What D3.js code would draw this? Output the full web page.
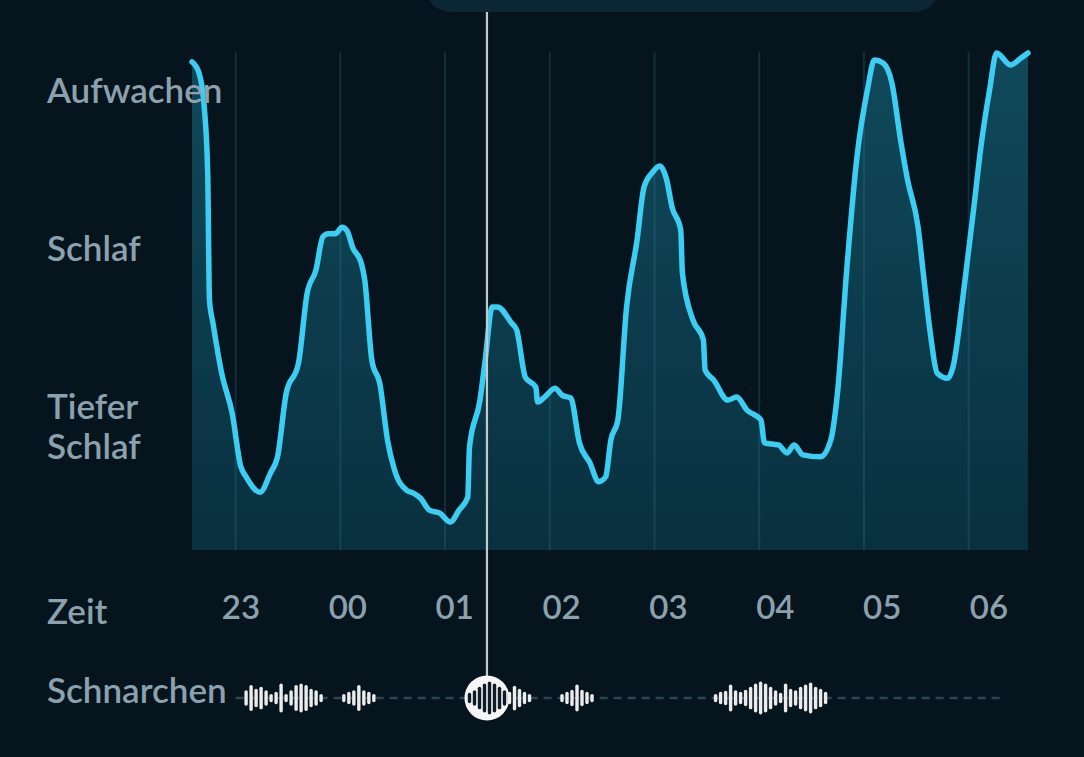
<!DOCTYPE html>
<html>
<head>
<meta charset="utf-8">
<script src="https://cdn.jsdelivr.net/npm/d3@7"></script>
<style>
  html,body{margin:0;padding:0;background:#06141e;}
  svg{display:block;}
  text{font-family:Lato,"Open Sans",sans-serif;}
</style>
</head>
<body>
<svg id="chart" width="1084" height="757"></svg>
<script>
// ---------- DATA ----------
const sleepTimes = ["22:35","22:39","22:42","22:44","22:45","22:47","22:52","22:58","23:03","23:06","23:14","23:20","23:24","23:29","23:36","23:41","23:46","23:50","23:53","23:57","00:01","00:04","00:07","00:12","00:14","00:18","00:23","00:24","00:27","00:31","00:38","00:42","00:46","00:51","00:57","01:03","01:08","01:13","01:14","01:20","01:23","01:27","01:30","01:38","01:41","01:46","01:52","01:53","01:57","02:03","02:07","02:12","02:17","02:23","02:28","02:32","02:35","02:39","02:44","02:50","02:54","02:59","03:03","03:07","03:10","03:15","03:16","03:22","03:28","03:29","03:34","03:42","03:47","03:53","04:01","04:03","04:11","04:16","04:20","04:25","04:35","04:41","04:45","04:50","04:56","05:02","05:06","05:11","05:16","05:21","05:25","05:31","05:34","05:38","05:42","05:48","05:51","05:57","06:03","06:07","06:12","06:16","06:24","06:30","06:34"];
const sleepDepth = [98.0,95.8,89.0,75.7,50.2,45.6,35.5,27.5,16.7,14.7,11.6,15.5,18.7,31.5,37.5,51.6,56.2,62.9,63.5,63.5,64.8,64.0,60.8,57.6,54.2,38.2,32.7,30.1,22.1,16.1,12.0,11.4,10.4,8.0,7.4,5.6,8.0,10.6,20.7,30.1,38.2,48.8,48.8,45.6,44.2,34.7,32.7,29.7,30.7,32.5,31.1,30.5,21.5,17.5,13.7,14.7,22.1,26.1,48.8,62.2,72.9,75.9,77.1,74.3,68.9,64.3,55.6,46.2,42.2,36.1,34.1,30.1,30.7,28.1,26.1,21.5,21.1,19.5,21.1,19.1,18.7,22.1,32.1,55.6,78.9,92.4,98.4,97.8,93.8,82.3,74.3,64.9,55.6,43.6,35.5,34.5,36.7,51.6,68.9,80.9,92.4,99.8,97.4,98.8,99.8];

const hourTicks = ["23:00","00:00","01:00","02:00","03:00","04:00","05:00","06:00"];
const hourLabels = ["23","00","01","02","03","04","05","06"];

const stageNames = ["Aufwachen","Schlaf","Tiefer Schlaf"];
const stageValues = [92.2, 60.6, 24.9];

const axisTitle = "Zeit";
const snoreTitle = "Schnarchen";

const snoreStarts = ["23:06","00:02","01:14","02:07","03:35"];
const snoreAmps = [
  [15,25,18,22,15,8,12,28,8,15,25,28,25,18,15,8],
  [8,12,15,25,15,12,8],
  [10,15,22,28,32,28,22,15,12,24,18,12,8],
  [8,12,16,26,16,12,8],
  [8,12,14,26,15,12,16,22,28,32,28,22,15,10,28,18,15,22,26,30,22,18,12]
];
const snoreTrack = ["23:00","06:20"];
const cursorTime = "01:24";

// ---------- HELPERS ----------
const base = new Date(2024,0,1);
function toDate(s){
  const [h,m] = s.split(":").map(Number);
  const d = new Date(base);
  if (h < 12) d.setDate(d.getDate()+1);
  d.setHours(h, m, 0, 0);
  return d;
}
const sleep = sleepTimes.map((t,i)=>({t:toDate(t), v:sleepDepth[i]}));

// ---------- LAYOUT ----------
const svg = d3.select("#chart");
const plot = {left:192, right:1028, top:52, bottom:550};

const x = d3.scaleTime().domain(d3.extent(sleep, d=>d.t)).range([plot.left, plot.right]);
const y = d3.scaleLinear().domain([0,100]).range([plot.bottom, plot.top]);
const labelX = d3.scalePoint().domain(hourLabels).range([241, 989]);

const textColor = "#8ba2ae";
const lineColor = "#3ccdf3";

// tooltip panel at top (cut off)
svg.append("rect")
  .attr("x", 425).attr("y", -70).attr("width", 515).attr("height", 82)
  .attr("rx", 26).attr("fill", "#0b2634");

const defs = svg.append("defs");
const grad = defs.append("linearGradient").attr("id","areaGrad")
  .attr("x1",0).attr("y1",0).attr("x2",0).attr("y2",1);
grad.append("stop").attr("offset","0%").attr("stop-color","#10495a");
grad.append("stop").attr("offset","100%").attr("stop-color","#09303f");

// area
const area = d3.area().x(d=>x(d.t)).y0(plot.bottom).y1(d=>y(d.v)).curve(d3.curveMonotoneX);
svg.append("path").datum(sleep).attr("d", area).attr("fill","url(#areaGrad)");

// vertical grid
svg.append("g").selectAll("line").data(hourTicks).join("line")
  .attr("x1", d=>x(toDate(d))).attr("x2", d=>x(toDate(d)))
  .attr("y1", plot.top).attr("y2", plot.bottom)
  .attr("stroke", "#2a7a95").attr("stroke-opacity", 0.28).attr("stroke-width", 2);

// line
const line = d3.line().x(d=>x(d.t)).y(d=>y(d.v)).curve(d3.curveMonotoneX);
svg.append("path").datum(sleep).attr("d", line)
  .attr("fill","none").attr("stroke", lineColor).attr("stroke-width", 5.5)
  .attr("stroke-linejoin","round").attr("stroke-linecap","round");

// stage labels
const stageG = svg.append("g").attr("fill", textColor)
  .attr("font-size", 35).attr("font-weight", 600);
stageNames.forEach((name,i)=>{
  const words = name.split(" ");
  const cy = y(stageValues[i]);
  const lh = 40;
  words.forEach((w,j)=>{
    stageG.append("text").attr("x",47)
      .attr("y", cy + (j - (words.length-1)/2)*lh)
      .attr("dy","0.36em").text(w);
  });
});

// x axis labels
svg.append("text").attr("x",47).attr("y",624).attr("fill",textColor)
  .attr("font-size",35).attr("font-weight",600).text(axisTitle);
svg.append("g").selectAll("text").data(hourLabels).join("text")
  .attr("x", d=>labelX(d)).attr("y", 619).attr("text-anchor","middle")
  .attr("fill", textColor).attr("font-size", 33).attr("font-weight", 600)
  .text(d=>d);

// snoring row
const snoreY = 698;
svg.append("text").attr("x",47).attr("y",703).attr("fill",textColor)
  .attr("font-size",35).attr("font-weight",600).text(snoreTitle);

svg.append("line")
  .attr("x1", x(toDate(snoreTrack[0]))).attr("x2", x(toDate(snoreTrack[1])))
  .attr("y1", snoreY).attr("y2", snoreY)
  .attr("stroke", "#2c4656").attr("stroke-width", 2.5).attr("stroke-dasharray","8 6");

const barH = d3.scaleLinear().domain([0,32]).range([0,33]);
const pitch = 5;
const bars = [];
snoreStarts.forEach((s,ci)=>{
  const x0 = x(toDate(s));
  snoreAmps[ci].forEach((a,j)=>bars.push({x:x0 + j*pitch, a}));
});

function drawBars(g, color){
  g.selectAll("rect").data(bars).join("rect")
    .attr("x", d=>d.x-1.7).attr("width", 3.4)
    .attr("y", d=>snoreY - barH(d.a)/2).attr("height", d=>barH(d.a))
    .attr("rx", 1.7).attr("fill", color);
}
drawBars(svg.append("g"), "#ececec");

// cursor
const cx = x(toDate(cursorTime));
svg.append("line").attr("x1",cx).attr("x2",cx).attr("y1",12).attr("y2",snoreY)
  .attr("stroke","#c3c9cc").attr("stroke-width",2.2);
svg.append("circle").attr("cx",cx).attr("cy",snoreY).attr("r",22.5).attr("fill","#f6f6f6");
defs.append("clipPath").attr("id","cursorClip")
  .append("circle").attr("cx",cx).attr("cy",snoreY).attr("r",21);
drawBars(svg.append("g").attr("clip-path","url(#cursorClip)"), "#0d1c26");
</script>
</body>
</html>
